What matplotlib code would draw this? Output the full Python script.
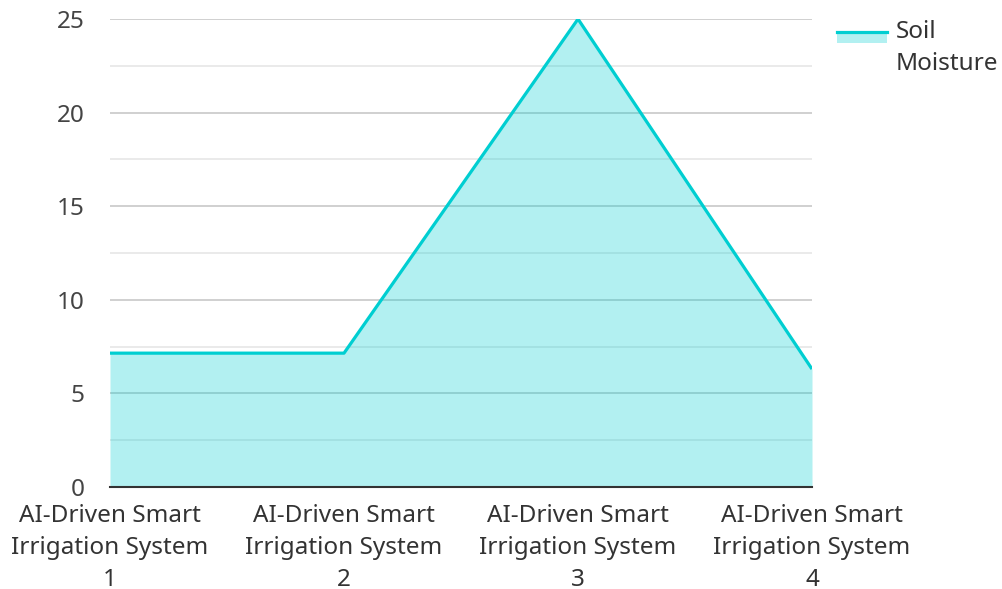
import matplotlib
matplotlib.use("Agg")
import matplotlib.pyplot as plt
from matplotlib.patches import Rectangle
from matplotlib.lines import Line2D
from matplotlib.ticker import MultipleLocator

plt.rcParams['font.family'] = ['Noto Sans', 'DejaVu Sans']

categories = ["AI-Driven Smart\nIrrigation System\n1",
              "AI-Driven Smart\nIrrigation System\n2",
              "AI-Driven Smart\nIrrigation System\n3",
              "AI-Driven Smart\nIrrigation System\n4"]
soil_moisture = [7.15, 7.15, 25, 6.3]
series_name = "Soil\nMoisture"

line_color = "#00CED1"
text_color = "#333333"
FS = 17.5

W, H = 1002, 589
fig = plt.figure(figsize=(W/100, H/100), dpi=100)
ax = fig.add_axes([110/W, 1-487/H, (812-110)/W, (487-19)/H])

x = list(range(len(categories)))
ax.fill_between(x, soil_moisture, 0, color=line_color, alpha=0.3, linewidth=0, zorder=3)
ax.plot(x, soil_moisture, color=line_color, linewidth=2.3, zorder=4, solid_capstyle='butt')

ax.set_xlim(0, len(categories) - 1)
ax.set_ylim(0, 25)
ax.yaxis.set_major_locator(MultipleLocator(5))
ax.yaxis.set_minor_locator(MultipleLocator(2.5))
ax.grid(which='major', axis='y', color='#c8c8c8', linewidth=1.2, zorder=1)
ax.grid(which='minor', axis='y', color='#e6e6e6', linewidth=1.2, zorder=1)
ax.set_xticks(x)
ax.set_xticklabels(categories, fontsize=FS, color=text_color, linespacing=1.43)
ax.tick_params(axis='both', which='both', length=0)
ax.tick_params(axis='y', labelsize=FS, labelcolor='#444444', pad=18.5)
ax.tick_params(axis='x', pad=12.5)
for s in ['top', 'right', 'left']:
    ax.spines[s].set_visible(False)
ax.spines['bottom'].set_color('#333333')
ax.spines['bottom'].set_linewidth(1.5)
ax.spines['bottom'].set_zorder(5)

# legend (drawn in figure pixel coordinates)
def fx(px):
    return px / W

def fy(py):
    return 1 - py / H

fig.patches.append(Rectangle((fx(837), fy(43)), fx(887) - fx(837), fy(31) - fy(43),
                             transform=fig.transFigure, facecolor=line_color, alpha=0.3,
                             edgecolor='none'))
fig.lines.append(Line2D([fx(837), fx(887)], [fy(32), fy(32)], transform=fig.transFigure,
                        color=line_color, linewidth=2.3))
fig.text(fx(896), fy(48), series_name, fontsize=FS, color=text_color,
         ha='left', va='center', linespacing=1.43)

fig.savefig("out.png", dpi=100)
